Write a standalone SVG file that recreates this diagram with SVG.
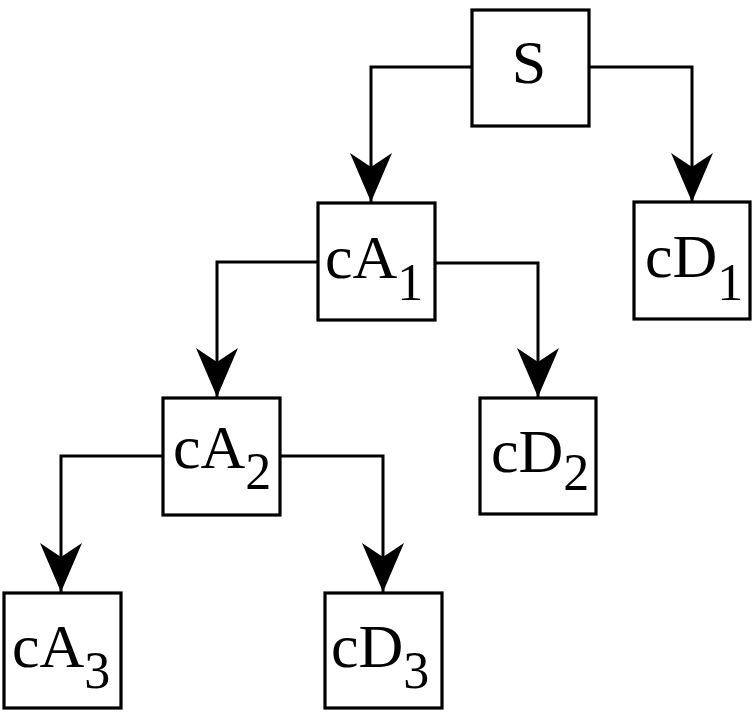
<svg xmlns="http://www.w3.org/2000/svg" width="752" height="715" viewBox="0 0 752 715">
<style>
.box{fill:#fff;stroke:#000;stroke-width:3.2}
.lbl{font-family:"Liberation Serif","Times New Roman",serif;font-size:62px;fill:#000}
.sub{font-size:52px}
.edge{fill:none;stroke:#000;stroke-width:3}
</style>
<defs>
<marker id="arr" viewBox="0 0 49 42" refX="49" refY="21" markerWidth="49" markerHeight="42" markerUnits="userSpaceOnUse" orient="auto">
<path d="M0,0 L49,21 L0,42 L14,21 Z" fill="#000"/>
</marker>
</defs>
<rect width="752" height="715" fill="#fff"/>
<g id="connectors">
<path class="edge" d="M472,67 H371 V202" marker-end="url(#arr)"/>
<path class="edge" d="M589,67 H692 V202" marker-end="url(#arr)"/>
<path class="edge" d="M318,262 H217 V397" marker-end="url(#arr)"/>
<path class="edge" d="M435,263 H538 V397" marker-end="url(#arr)"/>
<path class="edge" d="M163,456 H61 V592" marker-end="url(#arr)"/>
<path class="edge" d="M280,456 H383 V592" marker-end="url(#arr)"/>
</g>
<g id="S">
<rect class="box" x="472" y="10" width="117" height="116"/>
<text class="lbl" x="529" y="83" text-anchor="middle">S</text>
</g>
<g id="cA1">
<rect class="box" x="318" y="203" width="117" height="117"/>
<text class="lbl" x="325" y="278">cA<tspan class="sub" dy="22">1</tspan></text>
</g>
<g id="cD1">
<rect class="box" x="634" y="202" width="116" height="117"/>
<text class="lbl" x="645" y="277">cD<tspan class="sub" dy="23">1</tspan></text>
</g>
<g id="cA2">
<rect class="box" x="163" y="398" width="117" height="117"/>
<text class="lbl" x="173" y="468">cA<tspan class="sub" dy="21">2</tspan></text>
</g>
<g id="cD2">
<rect class="box" x="480" y="398" width="116" height="116"/>
<text class="lbl" x="491" y="472">cD<tspan class="sub" dy="18">2</tspan></text>
</g>
<g id="cA3">
<rect class="box" x="4" y="593" width="117" height="115"/>
<text class="lbl" x="12" y="667">cA<tspan class="sub" dy="21">3</tspan></text>
</g>
<g id="cD3">
<rect class="box" x="325" y="593" width="117" height="115"/>
<text class="lbl" x="331" y="667">cD<tspan class="sub" dy="21">3</tspan></text>
</g>
</svg>
